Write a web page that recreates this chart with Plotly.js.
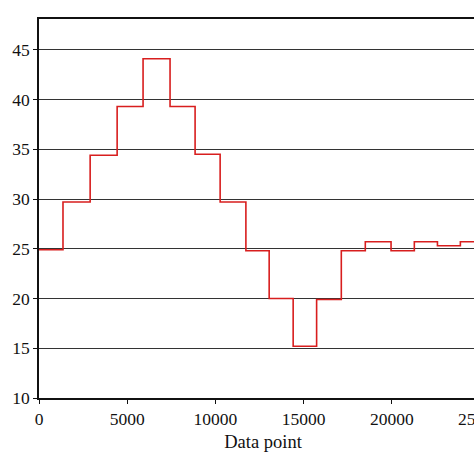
<!DOCTYPE html>
<html>
<head>
<meta charset="utf-8">
<script src="https://cdn.plot.ly/plotly-3.0.1.min.js"></script>
<style>
  html, body { margin: 0; padding: 0; background: #fff; overflow: hidden; }
  #chart { width: 490px; height: 474px; }
  #chart svg text { font-family: 'Liberation Serif', 'Times New Roman', serif !important; }
</style>
</head>
<body>
<div id="chart"></div>
<script>
// Step boundaries (data point index where each level starts) and the level held
const stepStarts = [0, 1360, 2900, 4430, 5900, 7430, 8850, 10270, 11730, 13050,
                    14410, 15740, 17140, 18500, 19960, 21280, 22590, 23890, 25400];
const stepLevels = [24.9, 29.7, 34.4, 39.3, 44.1, 39.3, 34.5, 29.7, 24.8, 20.0,
                    15.2, 19.9, 24.8, 25.7, 24.8, 25.7, 25.3, 25.7, 25.7];
const yTicks = [10, 15, 20, 25, 30, 35, 40, 45];
const xTicks = [0, 5000, 10000, 15000, 20000, 25000];

const labelFont = 'Liberation Serif';

Plotly.newPlot('chart', [{
  x: stepStarts,
  y: stepLevels,
  type: 'scatter',
  mode: 'lines',
  line: { shape: 'hv', color: '#d81e1e', width: 1.6 },
  hoverinfo: 'skip'
}], {
  width: 490,
  height: 474,
  margin: { l: 39, r: 3, t: 19, b: 76 },
  paper_bgcolor: '#fff',
  plot_bgcolor: '#fff',
  showlegend: false,
  font: { family: labelFont, size: 17.5, color: '#111' },
  xaxis: {
    range: [0, 25400],
    tickvals: xTicks,
    ticktext: xTicks.map(String),
    ticks: 'outside',
    ticklen: 4,
    tickcolor: '#111',
    ticklabeloverflow: 'allow',
    showgrid: false,
    zeroline: false,
    showline: true,
    linecolor: '#111',
    linewidth: 1.5,
    mirror: true,
    tickfont: { family: labelFont, size: 17.5, color: '#111' },
    title: { text: 'Data point', font: { family: labelFont, size: 18.5, color: '#111' }, standoff: 7 }
  },
  yaxis: {
    range: [10, 48.1],
    tickvals: yTicks,
    ticktext: yTicks.map(String),
    ticks: 'outside',
    ticklen: 4,
    tickcolor: '#111',
    showgrid: true,
    gridcolor: '#333',
    gridwidth: 1,
    zeroline: false,
    showline: true,
    linecolor: '#111',
    linewidth: 1.5,
    tickfont: { family: labelFont, size: 17.5, color: '#111' }
  }
}, { displayModeBar: false });
</script>
</body>
</html>
